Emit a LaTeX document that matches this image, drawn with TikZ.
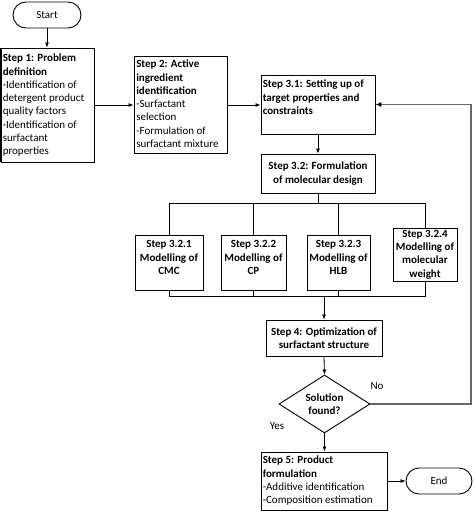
\documentclass[tikz,border=0pt]{standalone}
\usepackage{fontspec}
\setmainfont{Carlito}
\usetikzlibrary{arrows.meta,shapes.geometric,calc}
\newcommand\myfs{\fontsize{11}{13.3}\selectfont}
\begin{document}
\begin{tikzpicture}[x=1pt,y=-1pt,
  box/.style={draw, line width=0.9pt, inner sep=0pt},
  ltxt/.style={anchor=north west, inner sep=0pt, align=left, font=\myfs},
  ctxt/.style={inner sep=0pt, align=center, font=\myfs\bfseries},
  arr/.style={-{Latex[length=5pt,width=4pt]}, line width=0.8pt},
  ln/.style={line width=0.8pt},
  fb/.style={line width=1.6pt, draw=black!60, -{Latex[length=6pt,width=5pt,color=black]}},
  term/.style={draw, line width=0.9pt, rounded corners=13pt, minimum height=26pt, font=\myfs, inner sep=0pt}
]
\useasboundingbox (0,0) rectangle (474,528);

% Start
\node[term, minimum width=68pt] (start) at (47,15) {Start};

% Step 1
\node[box, minimum width=93pt, minimum height=114pt] (s1) at (47.5,105) {};
\draw[line width=2.4pt] ($(s1.north west)+(0.6,0)$) -- ($(s1.south west)+(0.6,0)$);
\node[ltxt] (t1) at ($(s1.north west)+(2,4.7)$) {\strut\textbf{Step 1: Problem}\\\textbf{definition}\\-Identification of\\detergent product\\quality factors\\-Identification of\\surfactant\\properties};

% Step 2
\node[box, minimum width=93pt, minimum height=97pt] (s2) at (180.5,105) {};
\node[ltxt] (t2) at ($(s2.north west)+(2.5,2.2)$) {\strut\textbf{Step 2: Active}\\\textbf{ingredient}\\\textbf{identification}\\-Surfactant\\selection\\-Formulation of\\surfactant mixture};

% Step 3.1
\node[box, minimum width=114pt, minimum height=59pt] (s31) at (318,104.5) {};
\node[ltxt, font=\myfs\bfseries] (t31) at ($(s31.north west)+(2,3.7)$) {\strut Step 3.1: Setting up of\\target properties and\\constraints};

% Step 3.2
\node[box, ctxt, minimum width=114pt, minimum height=39pt] (s32) at (318,173.5) {Step 3.2: Formulation\\of molecular design};

% Step 3.2.x
\node[box, minimum width=68pt, minimum height=55pt] (s321) at (169,262.5) {};
\node[ctxt] (t321) at ($(s321.center)+(0,-5)$) {Step 3.2.1\\Modelling of\\CMC};
\node[box, minimum width=65pt, minimum height=55pt] (s322) at (253.5,262.5) {};
\node[ctxt] (t322) at ($(s322.center)+(0,-5)$) {Step 3.2.2\\Modelling of\\CP};
\node[box, minimum width=63pt, minimum height=55pt] (s323) at (338.5,262.5) {};
\node[ctxt] (t323) at ($(s323.center)+(0,-5)$) {Step 3.2.3\\Modelling of\\HLB};
\node[box, ctxt, minimum width=64pt, minimum height=53pt] (s324) at (425,254.5) {Step 3.2.4\\Modelling of\\molecular\\weight};

% Step 4
\node[box, ctxt, minimum width=116pt, minimum height=36pt] (s4) at (324,338) {Step 4: Optimization of\\surfactant structure};

% Decision
\node[diamond, draw, line width=0.9pt, inner sep=0pt, aspect=1.57, minimum width=91pt, minimum height=58pt, align=center, font=\myfs\bfseries] (dia) at (324.5,404) {Solution\\found?};

% Step 5
\node[box, minimum width=126pt, minimum height=58pt] (s5) at (324,481) {};
\node[ltxt] (t5) at ($(s5.north west)+(2,2.7)$) {\strut\textbf{Step 5: Product}\\\textbf{formulation}\\-Additive identification\\-Composition estimation};

% End
\node[term, minimum width=66pt] (end) at (439,481) {End};

% labels
\node[font=\myfs, inner sep=0pt] (no) at (377,386) {No};
\node[font=\myfs, inner sep=0pt] (yes) at (277,426) {Yes};

% coordinates for buses and feedback
\coordinate (bt) at (318,203);
\coordinate (bb) at (324,296);
\coordinate (fbx) at (471,404);

% connectors
\draw[arr] (start.south) -- (s1.north -| start.south);
\draw[arr] (s1.east) -- (s2.west);
\draw[arr] (s2.east) -- (s2.east -| s31.west);
\draw[arr] (s31.south) -- (s32.north);
\draw[ln] (s32.south) -- (bt);
\draw[ln] (s321.north) -- (s321.north |- bt) -- (s324.north |- bt) -- (s324.north);
\draw[ln] (s322.north) -- (s322.north |- bt);
\draw[ln] (s323.north) -- (s323.north |- bt);
\draw[ln] (s321.south) -- (s321.south |- bb) -- (s324.south |- bb) -- (s324.south);
\draw[ln] (s322.south) -- (s322.south |- bb);
\draw[ln] (s323.south) -- (s323.south |- bb);
\draw[arr] (bb) -- (s4.north |- bb) -- (s4.north);
\draw[arr] (s4.south) -- (dia.north);
\draw[arr] (dia.south) -- (s5.north -| dia.south);
\draw[arr] (s5.east) -- (end.west);
\draw[fb] (dia.east) -- (fbx) |- (s31.east);
\end{tikzpicture}
\end{document}
